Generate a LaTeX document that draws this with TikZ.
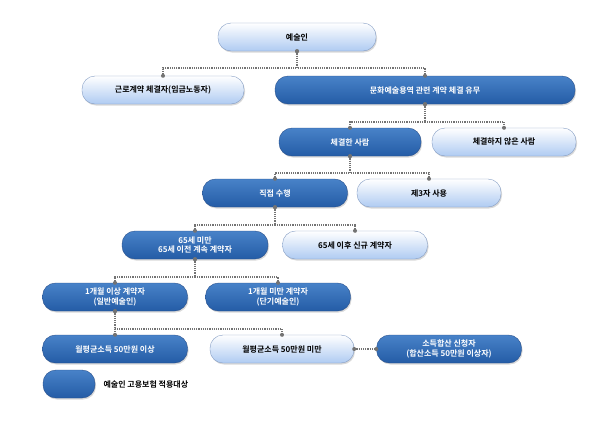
\documentclass[tikz,border=0pt]{standalone}
\usepackage{fontspec}
\setmainfont{Noto Sans CJK KR}[BoldFont={Noto Sans CJK KR Bold}]
\usetikzlibrary{shadows}
\definecolor{dtop}{RGB}{72,130,200}
\definecolor{dbot}{RGB}{36,92,166}
\definecolor{dbrd}{RGB}{40,80,140}
\definecolor{lbot}{RGB}{175,203,242}
\definecolor{lbrd}{RGB}{130,155,195}
\begin{document}
\begin{tikzpicture}[x=1pt,y=-1pt,
  base/.style={rounded corners=13pt,minimum height=28pt,inner sep=1pt,align=center,font=\bfseries\fontsize{8}{9.5}\selectfont,drop shadow={opacity=0.3,shadow xshift=1pt,shadow yshift=-1.5pt}},
  dark/.style={base,draw=dbrd,top color=dtop,bottom color=dbot,text=white},
  light/.style={base,draw=lbrd,top color=white,bottom color=lbot,text=black},
  conn/.style={draw=gray!90!black,densely dotted,line width=1.2pt},
  dotm/.style={fill=gray!90!black,circle,inner sep=0pt,minimum size=4pt}]
\useasboundingbox (0,0) rectangle (601,421);
\node[light,minimum width=158pt] (a) at (297,37) {예술인};
\node[light,minimum width=162pt] (b) at (163,90) {근로계약 체결자(임금노동자)};
\node[dark,minimum width=300pt] (c) at (425,90) {문화예술용역 관련 계약 체결 유무};
\node[dark,minimum width=142pt] (d) at (350,142) {체결한 사람};
\node[light,minimum width=144pt] (e) at (504,142) {체결하지 않은 사람};
\node[dark,minimum width=145pt] (f) at (275,193) {직접 수행};
\node[light,minimum width=144pt] (g) at (429,193) {제3자 사용};
\node[dark,minimum width=146pt] (h) at (195,245) {65세 미만\\65세 이전 계속 계약자};
\node[light,minimum width=145pt] (i) at (355,245) {65세 이후 신규 계약자};
\node[dark,minimum width=145pt] (j) at (115,297) {1개월 이상 계약자\\(일반예술인)};
\node[dark,minimum width=145pt] (k) at (278,297) {1개월 미만 계약자\\(단기예술인)};
\node[dark,minimum width=145pt] (l) at (115,349) {월평균소득 50만원 이상};
\node[light,minimum width=144pt] (m) at (282,349) {월평균소득 50만원 미만};
\node[dark,minimum width=145pt] (n) at (449,349) {소득합산 신청자\\(합산소득 50만원 이상자)};
\node[dark,minimum width=52pt] (lg) at (69,384) {};
\node[anchor=west,font=\bfseries\fontsize{8}{9.5}\selectfont] (lt) at (100,384) {예술인 고용보험 적용대상};
\foreach \p/\q/\mid in {a/b/68,a/c/68,c/d/122,c/e/122,d/f/173,d/g/173,f/h/225,f/i/225,h/j/277,h/k/277,j/l/329,j/m/329}{
  \draw[conn] (\p.south) -- (\p.south |- 0,\mid) -| (\q.north);
  \node[dotm] at (\p.south) {};
  \node[dotm] at (\q.north) {};
}
\draw[conn] (m.east) -- (n.west);
\node[dotm] at (m.east) {};
\node[dotm] at (n.west) {};
\end{tikzpicture}
\end{document}
